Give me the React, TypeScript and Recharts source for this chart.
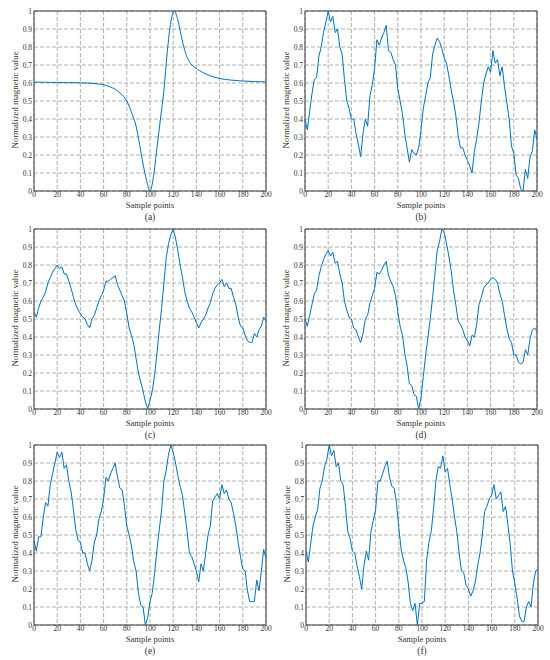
import React from 'react';
import { LineChart, Line, XAxis, YAxis, CartesianGrid, ReferenceArea } from 'recharts';

const xTicks = [0, 20, 40, 60, 80, 100, 120, 140, 160, 180, 200];
const yTicks = [0, 0.1, 0.2, 0.3, 0.4, 0.5, 0.6, 0.7, 0.8, 0.9, 1];
const xTitle = 'Sample points';
const yTitle = 'Normalized magnetic value';
const tags = ['(a)', '(b)', '(c)', '(d)', '(e)', '(f)'];

// (a) smooth anomaly curve, sampled at listed sample points
const aX = [0, 10, 20, 30, 40, 50, 55, 60, 65, 70, 75, 80, 85, 88, 91, 94, 97, 100, 103, 106, 109, 112, 115, 118, 121, 124, 127, 130, 133, 136, 140, 145, 150, 155, 160, 170, 180, 190, 200];
const aY = [0.605, 0.604, 0.603, 0.602, 0.601, 0.598, 0.595, 0.59, 0.58, 0.565, 0.54, 0.5, 0.42, 0.36, 0.26, 0.15, 0.06, 0.0, 0.08, 0.24, 0.4, 0.56, 0.78, 0.94, 1.0, 0.95, 0.86, 0.78, 0.73, 0.7, 0.68, 0.66, 0.645, 0.633, 0.625, 0.616, 0.611, 0.608, 0.606];

// (b)-(f) noisy series, every 2nd sample point (0..200)
const STEP = 2;
const bY = [
  0.40, 0.34, 0.44, 0.54, 0.62, 0.63, 0.75, 0.80, 0.88, 0.94,
  1.00, 0.94, 0.97, 0.88, 0.90, 0.80, 0.76, 0.62, 0.50, 0.46,
  0.40, 0.40, 0.32, 0.26, 0.19, 0.32, 0.40, 0.36, 0.53, 0.59,
  0.68, 0.84, 0.81, 0.85, 0.88, 0.92, 0.78, 0.77, 0.73, 0.70,
  0.57, 0.50, 0.43, 0.32, 0.24, 0.16, 0.23, 0.21, 0.20, 0.24,
  0.34, 0.46, 0.53, 0.60, 0.63, 0.76, 0.81, 0.85, 0.83, 0.79,
  0.74, 0.71, 0.64, 0.56, 0.50, 0.42, 0.31, 0.24, 0.24, 0.20,
  0.17, 0.14, 0.10, 0.22, 0.29, 0.38, 0.50, 0.60, 0.65, 0.69,
  0.66, 0.78, 0.71, 0.73, 0.64, 0.69, 0.58, 0.49, 0.40, 0.25,
  0.21, 0.09, 0.07, 0.01, 0.00, 0.12, 0.07, 0.19, 0.22, 0.34,
  0.29,
];
const cY = [
  0.54, 0.51, 0.56, 0.60, 0.62, 0.65, 0.70, 0.73, 0.76, 0.78,
  0.80, 0.78, 0.79, 0.75, 0.75, 0.71, 0.67, 0.62, 0.58, 0.55,
  0.53, 0.51, 0.50, 0.47, 0.45, 0.50, 0.52, 0.56, 0.60, 0.63,
  0.66, 0.71, 0.71, 0.72, 0.73, 0.74, 0.69, 0.66, 0.63, 0.60,
  0.53, 0.45, 0.41, 0.36, 0.28, 0.20, 0.15, 0.10, 0.04, 0.00,
  0.05, 0.10, 0.19, 0.31, 0.44, 0.56, 0.70, 0.84, 0.92, 0.97,
  1.00, 0.95, 0.88, 0.80, 0.73, 0.65, 0.60, 0.56, 0.54, 0.51,
  0.48, 0.45, 0.48, 0.50, 0.52, 0.56, 0.59, 0.64, 0.67, 0.69,
  0.70, 0.72, 0.68, 0.70, 0.67, 0.67, 0.62, 0.58, 0.51, 0.46,
  0.45, 0.41, 0.38, 0.37, 0.37, 0.42, 0.40, 0.44, 0.46, 0.51,
  0.49,
];
const dY = [
  0.50, 0.46, 0.52, 0.58, 0.64, 0.66, 0.74, 0.79, 0.83, 0.86,
  0.88, 0.85, 0.87, 0.81, 0.82, 0.75, 0.70, 0.60, 0.55, 0.51,
  0.50, 0.45, 0.44, 0.40, 0.37, 0.42, 0.50, 0.52, 0.59, 0.63,
  0.67, 0.76, 0.75, 0.77, 0.80, 0.82, 0.74, 0.71, 0.68, 0.63,
  0.54, 0.46, 0.41, 0.31, 0.24, 0.14, 0.13, 0.08, 0.07, 0.00,
  0.06, 0.18, 0.30, 0.40, 0.50, 0.62, 0.75, 0.88, 0.93, 1.00,
  0.98, 0.92, 0.85, 0.77, 0.66, 0.58, 0.49, 0.47, 0.44, 0.40,
  0.38, 0.35, 0.41, 0.40, 0.47, 0.58, 0.62, 0.67, 0.69, 0.70,
  0.72, 0.73, 0.72, 0.70, 0.64, 0.60, 0.52, 0.45, 0.39, 0.37,
  0.30, 0.30, 0.26, 0.25, 0.26, 0.33, 0.30, 0.39, 0.44, 0.45,
  0.43,
];
const eY = [
  0.47, 0.41, 0.49, 0.49, 0.60, 0.68, 0.66, 0.78, 0.84, 0.90,
  0.96, 0.93, 0.96, 0.87, 0.89, 0.80, 0.74, 0.64, 0.53, 0.47,
  0.46, 0.40, 0.40, 0.34, 0.30, 0.36, 0.46, 0.50, 0.59, 0.63,
  0.70, 0.82, 0.80, 0.84, 0.87, 0.90, 0.82, 0.76, 0.75, 0.66,
  0.55, 0.50, 0.44, 0.35, 0.30, 0.18, 0.11, 0.10, 0.00, 0.04,
  0.13, 0.18, 0.29, 0.42, 0.53, 0.64, 0.80, 0.86, 0.95, 1.00,
  0.96, 0.90, 0.83, 0.77, 0.72, 0.62, 0.52, 0.40, 0.38, 0.34,
  0.30, 0.24, 0.34, 0.30, 0.40, 0.50, 0.55, 0.69, 0.71, 0.73,
  0.70, 0.78, 0.73, 0.75, 0.70, 0.68, 0.62, 0.55, 0.46, 0.38,
  0.31, 0.30, 0.19, 0.13, 0.13, 0.13, 0.25, 0.19, 0.30, 0.42,
  0.37,
];
const fY = [
  0.41, 0.35, 0.45, 0.55, 0.60, 0.64, 0.76, 0.80, 0.88, 0.92,
  1.00, 0.94, 0.97, 0.88, 0.90, 0.80, 0.78, 0.66, 0.52, 0.48,
  0.41, 0.40, 0.33, 0.27, 0.20, 0.33, 0.41, 0.36, 0.52, 0.58,
  0.64, 0.80, 0.80, 0.84, 0.88, 0.91, 0.82, 0.77, 0.76, 0.68,
  0.54, 0.42, 0.36, 0.32, 0.24, 0.12, 0.08, 0.12, 0.00, 0.12,
  0.12, 0.13, 0.36, 0.46, 0.52, 0.65, 0.80, 0.88, 0.87, 0.94,
  0.85, 0.87, 0.78, 0.70, 0.60, 0.52, 0.40, 0.30, 0.29, 0.22,
  0.20, 0.16, 0.19, 0.24, 0.33, 0.40, 0.50, 0.63, 0.66, 0.70,
  0.72, 0.78, 0.70, 0.72, 0.74, 0.63, 0.66, 0.56, 0.45, 0.30,
  0.23, 0.15, 0.05, 0.02, 0.02, 0.10, 0.13, 0.10, 0.23, 0.30,
  0.31,
];

const toRows = (ys: number[]) => ys.map((v, i) => ({ x: i * STEP, v }));
const aRows = aX.map((x, i) => ({ x, v: aY[i] }));

const FONT = "'Liberation Serif', 'Times New Roman', serif";
const TEXT = '#333333';
const AXIS = '#3a3a3a';
const LINE = '#0072BD';

type PanelProps = { rows: { x: number; v: number }[]; left: number; top: number; tag: string; smooth?: boolean };

function Panel({ rows, left, top, tag, smooth }: PanelProps) {
  const xLabel = (props: any) => {
    const vb = props.viewBox || { x: 34, y: 191, width: 232, height: 31 };
    const cx = vb.x + vb.width / 2;
    return (
      <g>
        <text x={cx} y={vb.y + 16.8} textAnchor="middle" fontSize={8.5} fill={TEXT} fontFamily={FONT}>{xTitle}</text>
        <text x={cx} y={vb.y + 28.6} textAnchor="middle" fontSize={9.5} fill={TEXT} fontFamily={FONT}>{tag}</text>
      </g>
    );
  };
  const yLabel = (props: any) => {
    const vb = props.viewBox || { x: 0, y: 11, width: 34, height: 180 };
    const cx = vb.x + 17.5;
    const cy = vb.y + vb.height / 2 - 1;
    return (
      <text transform={`translate(${cx},${cy}) rotate(-90)`} textAnchor="middle" fontSize={8.8} fill={TEXT} fontFamily={FONT}>{yTitle}</text>
    );
  };
  const tickStyle = { fontSize: 7.5, fill: TEXT, fontFamily: FONT };
  return (
    <div style={{ position: 'absolute', left, top }}>
      <LineChart width={275} height={222} data={rows} margin={{ top: 11, right: 9, bottom: 0, left: 0 }}>
        <CartesianGrid stroke="#9a9a9a" strokeDasharray="4 2" strokeWidth={0.8} />
        <XAxis
          type="number"
          dataKey="x"
          domain={[0, 200]}
          ticks={xTicks}
          interval={0}
          tickLine={false}
          axisLine={false}
          tickSize={0}
          tickMargin={1}
          height={31}
          tick={tickStyle}
          label={{ content: xLabel }}
        />
        <YAxis
          type="number"
          domain={[0, 1]}
          ticks={yTicks}
          interval={0}
          tickLine={false}
          axisLine={false}
          tickSize={0}
          tickMargin={2}
          width={34}
          tick={tickStyle}
          label={{ content: yLabel }}
        />
        <ReferenceArea x1={0} x2={200} y1={0} y2={1} fill="none" stroke={AXIS} strokeWidth={1} ifOverflow="visible" />
        <Line
          type={smooth ? 'monotone' : 'linear'}
          dataKey="v"
          stroke={LINE}
          strokeWidth={1}
          dot={false}
          isAnimationActive={false}
        />
      </LineChart>
    </div>
  );
}

export default function App() {
  return (
    <div style={{ position: 'absolute', left: 0, top: 0, width: 550, height: 660, background: '#fff' }}>
      <Panel rows={aRows} left={0} top={0} tag={tags[0]} smooth />
      <Panel rows={toRows(bY)} left={271} top={0} tag={tags[1]} />
      <Panel rows={toRows(cY)} left={0} top={218} tag={tags[2]} />
      <Panel rows={toRows(dY)} left={271} top={218} tag={tags[3]} />
      <Panel rows={toRows(eY)} left={0} top={434} tag={tags[4]} />
      <Panel rows={toRows(fY)} left={272} top={434} tag={tags[5]} />
    </div>
  );
}
